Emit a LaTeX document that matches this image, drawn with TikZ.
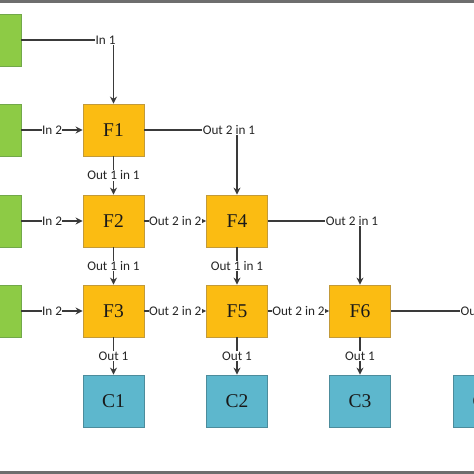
\documentclass[tikz,border=0pt]{standalone}
\usepackage{fontspec}
\newfontfamily\labfont{Carlito}
\newfontfamily\boxfont{Liberation Serif}
\usetikzlibrary{arrows.meta}
\definecolor{fbox}{HTML}{FBBC12}
\definecolor{fborder}{HTML}{C29A3A}
\definecolor{gbox}{HTML}{8DCB45}
\definecolor{gborder}{HTML}{72A84A}
\definecolor{cbox}{HTML}{5DB7CD}
\definecolor{cborder}{HTML}{4C8C9C}
\definecolor{lnc}{HTML}{3A3A3A}
\definecolor{barc}{HTML}{6E6E6E}
\tikzset{
  fnode/.style={draw=fborder, fill=fbox, line width=0.8pt, minimum width=61pt, minimum height=52pt, inner sep=0pt, font=\boxfont\fontsize{19.5}{19.5}\selectfont, text=black!90},
  cnode/.style={fnode, draw=cborder, fill=cbox},
  gnode/.style={fnode, draw=gborder, fill=gbox},
  conn/.style={draw=lnc, line width=1.3pt},
  arr/.style={conn, -{Stealth[length=7pt,width=7pt]}},
  lab/.style={fill=white, inner sep=0.5pt, font=\labfont\fontsize{13.2}{13.2}\selectfont, text=black!85}
}
\begin{document}
\begin{tikzpicture}[x=1pt,y=-1pt]
\useasboundingbox (0,0) rectangle (474,474);
\clip (0,0) rectangle (474,474);
\fill[white] (0,0) rectangle (474,474);
% input boxes
\node[gnode] (g1) at (-9.5,40) {};
\node[gnode] (g2) at (-9.5,130) {};
\node[gnode] (g3) at (-9.5,221) {};
\node[gnode] (g4) at (-9.5,311) {};
% function boxes
\node[fnode] (F1) at (113.5,130) {F1};
\node[fnode] (F2) at (113.5,221) {F2};
\node[fnode] (F3) at (113.5,311) {F3};
\node[fnode] (F4) at (237,221) {F4};
\node[fnode] (F5) at (237,311) {F5};
\node[fnode] (F6) at (360,311) {F6};
% output boxes
\node[cnode] (C1) at (113.5,401) {C1};
\node[cnode] (C2) at (237,401) {C2};
\node[cnode] (C3) at (360,401) {C3};
\node[cnode] (C4) at (484,401) {C4};
\coordinate (k1) at (113.5,40);
\coordinate (k2) at (237,130);
\coordinate (k3) at (360,221);
\coordinate (k4) at (484,311);
% connectors
\draw[arr] (g1.east) -- (k1) -- (F1.north);
\node[lab] at ([xshift=-8pt]k1) {In 1};
\draw[arr] (F1.east) -- (k2) -- (F4.north);
\node[lab] at ([xshift=-8pt]k2) {Out 2 in 1};
\draw[arr] (F4.east) -- (k3) -- (F6.north);
\node[lab] at ([xshift=-8pt]k3) {Out 2 in 1};
\draw[conn] (F6.east) -- (k4);
\node[lab, anchor=west] at (460,311) {Out 2 in 1};
\draw[arr] (g2.east) -- node[lab] {In 2} (F1.west);
\draw[arr] (g3.east) -- node[lab] {In 2} (F2.west);
\draw[arr] (g4.east) -- node[lab] {In 2} (F3.west);
\draw[arr] (F1.south) -- node[lab] {Out 1 in 1} (F2.north);
\draw[arr] (F2.south) -- node[lab] {Out 1 in 1} (F3.north);
\draw[arr] (F4.south) -- node[lab] {Out 1 in 1} (F5.north);
\draw[arr] (F2.east) -- node[lab] {Out 2 in 2} (F4.west);
\draw[arr] (F3.east) -- node[lab] {Out 2 in 2} (F5.west);
\draw[arr] (F5.east) -- node[lab] {Out 2 in 2} (F6.west);
\draw[arr] (F3.south) -- node[lab] {Out 1} (C1.north);
\draw[arr] (F5.south) -- node[lab] {Out 1} (C2.north);
\draw[arr] (F6.south) -- node[lab] {Out 1} (C3.north);
% frame bars
\fill[barc] (0,0) rectangle (474,2.7);
\fill[barc] (0,470.7) rectangle (474,474);
\end{tikzpicture}
\end{document}
